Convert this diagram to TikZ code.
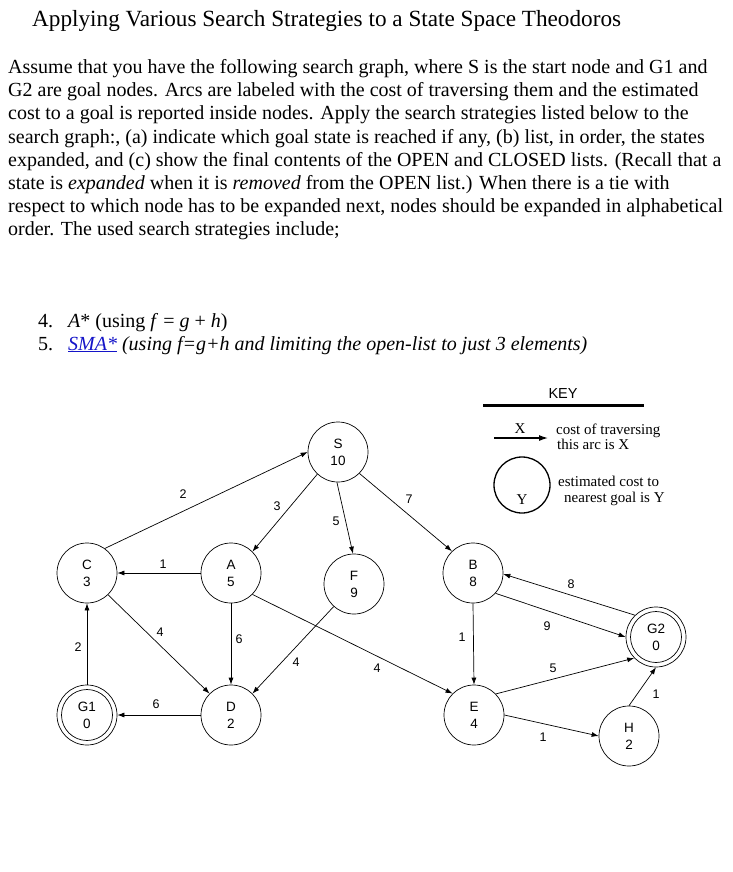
\documentclass[tikz,border=0pt]{standalone}
\usepackage{fontspec}
\setmainfont{Liberation Serif}
\newfontfamily\arialf{Liberation Sans}
\usetikzlibrary{arrows.meta}
\definecolor{linkblue}{RGB}{20,20,200}
\begin{document}
\begin{tikzpicture}[x=1pt,y=-1pt,
  txt/.style={anchor=base west,inner sep=0pt,font=\fontsize{20}{23}\selectfont},
  stnode/.style={circle,draw,line width=0.7pt,minimum size=60pt,inner sep=0pt,align=center,font=\arialf\fontsize{13.5}{17}\selectfont},
  lbl/.style={inner sep=0pt,font=\arialf\fontsize{12.5}{14}\selectfont},
  arr/.style={line width=0.7pt,-{Latex[length=7pt,width=5pt]}},
  keyt/.style={anchor=base west,inner sep=0pt,font=\fontsize{15}{16}\selectfont}]
\useasboundingbox (0,0) rectangle (732,872);
% text
\node[txt,anchor=base west,font=\fontsize{23.2}{26}\selectfont] (title) at (32,27) {Applying Various Search Strategies to a State Space Theodoros};
\node[txt] (t1) at (8,74) {Assume that you have the following search graph, where S is the start node and G1 and};
\node[txt] (t2) at (8,97) {G2 are goal nodes. Arcs are labeled with the cost of traversing them and the estimated};
\node[txt] (t3) at (8,120) {cost to a goal is reported inside nodes. Apply the search strategies listed below to the};
\node[txt] (t4) at (8,143) {search graph:, (a) indicate which goal state is reached if any, (b) list, in order, the states};
\node[txt] (t5) at (8,166) {expanded, and (c) show the final contents of the OPEN and CLOSED lists. (Recall that a};
\node[txt] (t6) at (8,189) {state is \emph{expanded} when it is \emph{removed} from the OPEN list.) When there is a tie with};
\node[txt] (t7) at (8,212) {respect to which node has to be expanded next, nodes should be expanded in alphabetical};
\node[txt] (t8) at (8,235) {order. The used search strategies include;};
\node[txt] (n4) at (38,327) {4.};
\node[txt] (i4) at (68,327) {\textit{A}* (using \textit{f} = \textit{g} + \textit{h})};
\node[txt] (n5) at (38,350) {5.};
\node[txt] (i5) at (68,350) {\textit{\textcolor{linkblue}{\underline{SMA*}} (using f=g+h and limiting the open-list to just 3 elements)}};
% key
\node[inner sep=0pt,font=\arialf\fontsize{14.5}{16}\selectfont] (key) at (563,394) {KEY};
\coordinate (k1) at (483,405);
\coordinate (k2) at (644,405);
\draw[line width=3pt] (k1) -- (k2);
\coordinate (ka) at (494,438);
\coordinate (kb) at (548,438);
\draw[line width=1.2pt,-{Latex[length=9pt,width=6pt]}] (ka) -- (kb);
\node[inner sep=0pt,font=\fontsize{15}{16}\selectfont] (kx) at (520,429) {X};
\node[keyt] (kt1) at (556,434) {cost of traversing};
\node[keyt] (kt2) at (557,449) {this arc is X};
\node[circle,draw,line width=1.3pt,minimum size=56pt,inner sep=0pt] (kc) at (522,485) {};
\node[inner sep=0pt,font=\fontsize{15}{16}\selectfont] (ky) at (522,500) {Y};
\node[keyt] (kt3) at (558,486) {estimated cost to};
\node[keyt] (kt4) at (564,502) {nearest goal is Y};
% graph nodes
\node[stnode] (S) at (338,452) {S\\10};
\node[stnode] (C) at (87,573) {C\\3};
\node[stnode] (A) at (231,573) {A\\5};
\node[stnode] (F) at (354,584) {F\\9};
\node[stnode] (B) at (473,573) {B\\8};
\node[stnode] (G2) at (656,637) {G2\\0};
\node[stnode] (G1) at (87,715) {G1\\0};
\node[stnode] (D) at (231,715) {D\\2};
\node[stnode] (E) at (474,715) {E\\4};
\node[stnode] (H) at (629,736) {H\\2};
\draw[line width=0.7pt] (G1.center) circle[radius=25.5];
\draw[line width=0.7pt] (G2.center) circle[radius=25.5];
% edges
\draw[arr] (C.54) -- (S.180);
\draw[arr] (S.227) -- (A.45);
\draw[arr] (S.268) -- (F.92);
\draw[arr] (S.-45) -- (B.134);
\draw[arr] (A.180) -- (C.0);
\draw[arr] (C.-46) -- (D.135);
\draw[arr] (A.270) -- (D.90);
\draw[arr] (F.228) -- (D.45);
\draw[arr] (A.-45) -- (E.135);
\draw[arr] (G1.90) -- (C.270);
\draw[arr] (D.180) -- (G1.0);
\draw[arr] (B.270) -- (E.90);
\draw[arr] (B.-42) -- (G2.180);
\draw[arr] (G2.134) -- (B.-2);
\draw[arr] (E.44) -- (G2.224);
\draw[arr] (E.0) -- (H.180);
\draw[arr] (H.90) -- (G2.270);
% labels
\node[lbl] (l1) at (183,494) {2};
\node[lbl] (l2) at (277,506) {3};
\node[lbl] (l3) at (336,521) {5};
\node[lbl] (l4) at (409,499) {7};
\node[lbl] (l5) at (163,564) {1};
\node[lbl] (l6) at (160,632) {4};
\node[lbl] (l7) at (239,639) {6};
\node[lbl] (l8) at (296,662) {4};
\node[lbl] (l9) at (377,668) {4};
\node[lbl] (l10) at (78,647) {2};
\node[lbl] (l11) at (156,704) {6};
\node[lbl] (l12) at (462,637) {1};
\node[lbl] (l13) at (547,626) {9};
\node[lbl] (l14) at (571,584) {8};
\node[lbl] (l15) at (553,668) {5};
\node[lbl] (l16) at (543,737) {1};
\node[lbl] (l17) at (656,694) {1};
\end{tikzpicture}
\end{document}
